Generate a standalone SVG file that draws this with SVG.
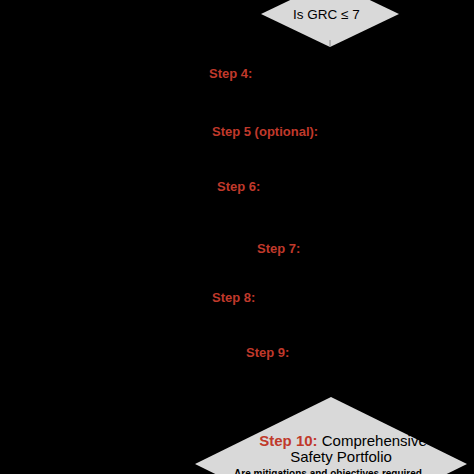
<svg xmlns="http://www.w3.org/2000/svg" width="474" height="474" viewBox="0 0 474 474">
<style>
.bg{fill:#000}
.dia{fill:#d9d9d9}
.step{font-family:"Liberation Sans",Arial,sans-serif;font-weight:bold;font-size:13px;fill:#c0392b}
.lbl{font-family:"Liberation Sans",Arial,sans-serif;font-size:15px;fill:#000}
.red{fill:#c0392b;font-weight:bold}
.small{font-family:"Liberation Sans",Arial,sans-serif;font-weight:bold;font-size:10px;fill:#000}
.conn{stroke:#8a8a8a;stroke-width:1;fill:none}
</style>
<rect class="bg" x="0" y="0" width="474" height="474"/>
<g id="decision-grc">
<polygon class="dia" points="330,-19 399,14 330,47 261,14"/>
<text class="lbl" x="293" y="19" style="font-size:13.5px">Is GRC ≤ 7</text>
</g>
<g id="connectors">
<line class="conn" x1="330" y1="40" x2="330" y2="47"/>
</g>
<g id="step4"><text class="step" x="209" y="78">Step 4:</text></g>
<g id="step5"><text class="step" x="212" y="136">Step 5 (optional):</text></g>
<g id="step6"><text class="step" x="217" y="191">Step 6:</text></g>
<g id="step7"><text class="step" x="257" y="253">Step 7:</text></g>
<g id="step8"><text class="step" x="212" y="302">Step 8:</text></g>
<g id="step9"><text class="step" x="246" y="357">Step 9:</text></g>
<g id="step10">
<polygon class="dia" points="331,397 467,464 331,531 195,464"/>
<text class="lbl" x="343" y="446" text-anchor="middle"><tspan class="red">Step 10:</tspan> Comprehensive</text>
<text class="lbl" x="341" y="462" text-anchor="middle">Safety Portfolio</text>
<text class="small" x="328" y="477" text-anchor="middle">Are mitigations and objectives required</text>
</g>
</svg>
